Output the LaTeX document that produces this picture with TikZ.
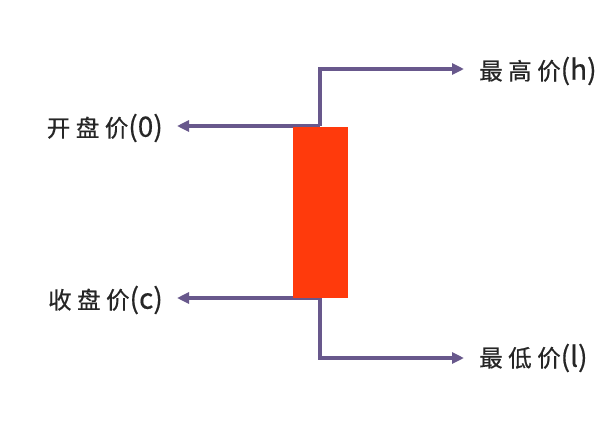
\documentclass[tikz,border=0pt]{standalone}
\usepackage{fontspec}
\setmainfont{Noto Sans CJK SC}[FakeBold=0.5]
\usetikzlibrary{arrows.meta}
\definecolor{wick}{RGB}{104,88,140}
\definecolor{body}{RGB}{255,58,12}
\tikzset{
  wickline/.style={draw=wick,line width=3.6pt},
  arr/.style={wickline,-{Triangle[length=12pt,width=11pt]}},
  lab/.style={font=\fontsize{23.5}{26}\selectfont,inner sep=0pt,text=black!85},
  candle/.style={fill=body,draw=none}
}
\newcommand{\chgap}{\kern5.5pt}
\newcommand{\lat}[1]{{\fontsize{28}{30}\selectfont #1}}
\begin{document}
\begin{tikzpicture}[x=1pt,y=-1pt]
\useasboundingbox (0,0) rectangle (607,426);
\fill[white] (0,0) rectangle (607,426);
\coordinate (top) at (320,69);
\coordinate (bot) at (320,358);
\coordinate (openc) at (320,126);
\coordinate (closec) at (320,298);
\node[lab,anchor=west] (hl) at (479,71) {最\chgap 高\chgap 价\lat{(h)}};
\node[lab,anchor=west] (ll) at (479,358) {最\chgap 低\chgap 价\lat{(l)}};
\node[lab,anchor=east] (ol) at (163,128) {开\chgap 盘\chgap 价\lat{(0)}};
\node[lab,anchor=east] (cl) at (163,300) {收\chgap 盘\chgap 价\lat{(c)}};
\coordinate (hend) at (464,69);
\coordinate (lend) at (464,358);
\coordinate (oend) at (177,126);
\coordinate (cend) at (177,298);
\draw[arr] (openc) -- (oend);
\draw[arr] (closec) -- (cend);
\draw[wickline] (openc) -- (top);
\draw[arr] ([xshift=-1.8pt]top) -- (hend);
\draw[wickline] (closec) -- (bot);
\draw[arr] ([xshift=-1.8pt]bot) -- (lend);
\node[candle,minimum width=55pt,minimum height=171pt,inner sep=0pt] (c) at (320.5,212) {};
\end{tikzpicture}
\end{document}
